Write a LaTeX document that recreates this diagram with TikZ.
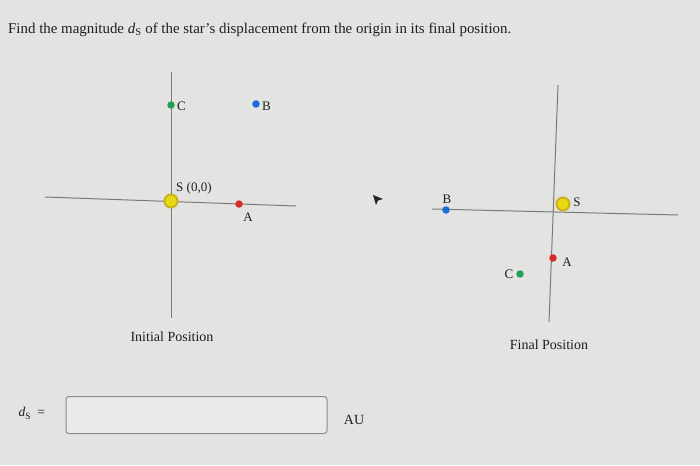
\documentclass[tikz,border=0pt]{standalone}
\usepackage{fontspec}
\setmainfont{Liberation Serif}
\definecolor{bgcol}{HTML}{E3E3E1}
\definecolor{txt}{HTML}{1E1E1E}
\definecolor{axcol}{HTML}{7A7A7A}
\definecolor{starfill}{HTML}{E8DA12}
\definecolor{stardraw}{HTML}{C9B21E}
\definecolor{reddot}{HTML}{D62B2B}
\definecolor{bluedot}{HTML}{1B6ED2}
\definecolor{greendot}{HTML}{23A052}
\definecolor{boxdraw}{HTML}{8C8C8C}
\definecolor{boxfill}{HTML}{EAEAE8}
\begin{document}
\begin{tikzpicture}[x=1pt,y=-1pt,
  axis/.style={draw=axcol, line width=1pt},
  dot/.style={circle, inner sep=0pt, minimum size=7.5pt},
  star/.style={circle, inner sep=0pt, minimum size=13pt, fill=starfill, draw=stardraw, line width=2pt},
  lab/.style={text=txt, font=\fontsize{13}{15}\selectfont, inner sep=1pt},
  captext/.style={text=txt, font=\fontsize{14}{16}\selectfont, inner sep=1pt}]
\fill[bgcol] (0,0) rectangle (700,465);
\useasboundingbox (0,0) rectangle (700,465);

% title
\node[anchor=west, text=txt, font=\fontsize{14.9}{17}\selectfont, inner sep=0pt] (title) at (8,30)
  {Find the magnitude \textit{d}\textsubscript{S} of the star's displacement from the origin in its final position.};

% initial position
\draw[axis] (171,72) -- (171,318);
\draw[axis] (45,197) -- (296,206);
\node[star] (Si) at (171,201) {};
\node[lab, anchor=south west] (Sil) at (175,195) {S (0,0)};
\node[dot, fill=greendot] (Ci) at (171,105) {};
\node[lab, anchor=west] (Cil) at (176,106) {C};
\node[dot, fill=bluedot] (Bi) at (256,104) {};
\node[lab, anchor=west] (Bil) at (261,106) {B};
\node[dot, fill=reddot] (Ai) at (239,204) {};
\node[lab] (Ail) at (248,217) {A};
\node[captext] (initcap) at (172,337) {Initial Position};

% cursor
\fill[black!85] (373,195) -- (383,199) -- (378,200.5) -- (376,205) -- cycle;

% final position
\draw[axis] (558,85) -- (549,322);
\draw[axis] (432,209) -- (678,215);
\node[star] (Sf) at (563,204) {};
\node[lab] (Sfl) at (577,202) {S};
\node[dot, fill=bluedot] (Bf) at (446,210) {};
\node[lab] (Bfl) at (447,199) {B};
\node[dot, fill=reddot] (Af) at (553,258) {};
\node[lab] (Afl) at (567,262) {A};
\node[dot, fill=greendot] (Cf) at (520,274) {};
\node[lab] (Cfl) at (509,274) {C};
\node[captext] (fincap) at (549,345) {Final Position};

% answer
\node[text=txt, anchor=west, font=\fontsize{13.5}{15}\selectfont] (ds) at (15,413) {\textit{d}\raisebox{-0.45ex}{\fontsize{9.5}{10}\selectfont S}\ \ =};
\node[draw=boxdraw, fill=boxfill, line width=1pt, rounded corners=3pt, minimum width=261pt, minimum height=37pt, inner sep=0pt] (box) at (196.5,415) {};
\node[captext] (au) at (354,420) {AU};
\end{tikzpicture}
\end{document}
